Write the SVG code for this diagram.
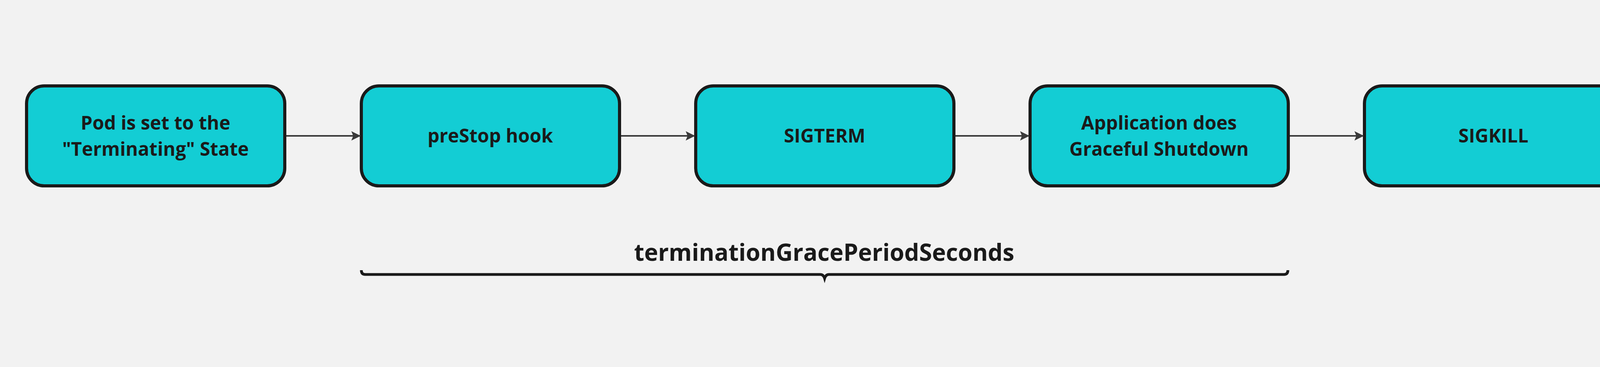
<svg xmlns="http://www.w3.org/2000/svg" width="4251" height="940" viewBox="0 0 4251 940">
<defs>
<style>
.n{fill:#13cdd4;stroke:#1a1a1a;stroke-width:8}
.t{font-family:"Open Sans",sans-serif;font-weight:bold;font-size:48px;fill:#1a1a1a;text-anchor:middle}
.c{stroke:#3a3a3a;stroke-width:4;fill:none;marker-end:url(#a)}
</style>
<marker id="a" viewBox="0 0 10 10" refX="9" refY="5" markerWidth="24" markerHeight="24" orient="auto" markerUnits="userSpaceOnUse">
<path d="M0,0 L10,5 L0,10 L2,5 z" fill="#3a3a3a"/>
</marker>
</defs>
<rect width="4251" height="940" fill="#f2f2f2"/>
<g id="n1"><rect class="n" x="68" y="220" width="661" height="256" rx="45"/><text class="t" x="398" y="332">Pod is set to the</text><text class="t" x="398" y="399">"Terminating" State</text></g>
<g id="n2"><rect class="n" x="925" y="220" width="661" height="256" rx="45"/><text class="t" x="1255" y="365">preStop hook</text></g>
<g id="n3"><rect class="n" x="1781" y="220" width="661" height="256" rx="45"/><text class="t" x="2111" y="365">SIGTERM</text></g>
<g id="n4"><rect class="n" x="2637" y="220" width="661" height="256" rx="45"/><text class="t" x="2967" y="332">Application does</text><text class="t" x="2967" y="399">Graceful Shutdown</text></g>
<g id="n5"><rect class="n" x="3493" y="220" width="661" height="256" rx="45"/><text class="t" x="3823" y="365">SIGKILL</text></g>
<g id="connectors">
<line class="c" x1="733" y1="348" x2="921" y2="348"/>
<line class="c" x1="1590" y1="348" x2="1777" y2="348"/>
<line class="c" x1="2446" y1="348" x2="2633" y2="348"/>
<line class="c" x1="3302" y1="348" x2="3489" y2="348"/>
</g>
<g id="bracket">
<text class="t" x="2110" y="668" style="font-size:60px">terminationGracePeriodSeconds</text>
<path d="M925,692 Q925,703 935,703 L2100,703 Q2108,703 2111,713 Q2114,703 2122,703 L3287,703 Q3297,703 3297,692" fill="none" stroke="#1a1a1a" stroke-width="7"/>
</g>
</svg>
